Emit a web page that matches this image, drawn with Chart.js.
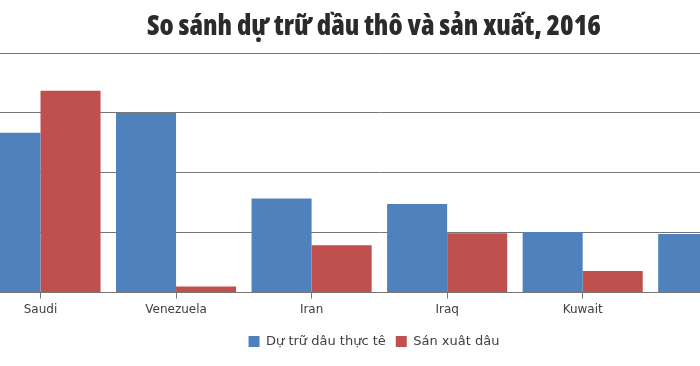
<!DOCTYPE html>
<html>
<head>
<meta charset="utf-8">
<script src="https://cdn.jsdelivr.net/npm/chart.js@4"></script>
<style>
  html, body { margin: 0; padding: 0; width: 700px; height: 366px; overflow: hidden; background: #fff; }
  /* the chart is shown panned: plot starts left of the window, last category runs past the right edge */
  #wrap { position: absolute; left: -38px; top: 0; width: 824px; height: 366px; }
</style>
</head>
<body>
<div id="wrap"><canvas id="oil-chart"></canvas></div>
<script>
const countries = ['Saudi', 'Venezuela', 'Iran', 'Iraq', 'Kuwait', 'UAE']
const reserves = [267, 300, 157, 148, 101, 98]
const production = [337, 10, 79, 99, 36, 40]
const yTicks = [0, 100, 200, 300, 400]

const blue = '#4f81bd'
const red = '#c0504d'
const gridGray = '#767676'

const ctx = document.getElementById('oil-chart').getContext('2d')
const chart = new Chart(ctx, {
    type: 'bar',
    data: {
        labels: countries,
        datasets: [
            {
                label: 'Dự trữ dâu thực tê',
                data: reserves,
                backgroundColor: blue,
                borderWidth: 0
            },
            {
                label: 'Sán xuât dâu',
                data: production,
                backgroundColor: red,
                borderWidth: 0
            }
        ]
    },
    options: {
        responsive: true,
        maintainAspectRatio: false,
        animation: false,
        layout: {
            padding: { left: 0, right: 0, top: 0, bottom: 8 }
        },
        datasets: {
            bar: {
                categoryPercentage: 0.886,
                barPercentage: 1
            }
        },
        scales: {
            x: {
                grid: {
                    offset: false,
                    drawOnChartArea: false,
                    color: gridGray,
                    tickLength: 6
                },
                border: { color: gridGray },
                ticks: {
                    color: '#404040',
                    padding: 4,
                    font: { family: 'DejaVu Sans', size: 12 }
                },
                // a bit more room between the labels and the legend
                afterFit: (scale) => {
                    scale.height += 4
                }
            },
            y: {
                min: yTicks[0],
                max: yTicks[yTicks.length - 1],
                afterBuildTicks: (scale) => {
                    scale.ticks = yTicks.map(v => ({ value: v }))
                },
                // the value labels are cut off in the source picture, keep a thin hidden axis
                afterFit: (scale) => {
                    scale.width = 10.75
                },
                grid: {
                    color: gridGray,
                    drawTicks: false
                },
                border: { display: false },
                ticks: { display: false }
            }
        },
        plugins: {
            title: {
                display: true,
                text: 'So sánh dự trữ dầu thô và sản xuất, 2016',
                color: '#2b2b2b',
                font: { family: "'Open Sans', 'DejaVu Sans Condensed', sans-serif", size: 27.5, weight: '800 condensed' },
                padding: { top: 11, bottom: 9 }
            },
            legend: {
                display: true,
                position: 'bottom',
                labels: {
                    boxWidth: 11,
                    boxHeight: 11,
                    padding: 10,
                    color: '#404040',
                    font: { family: 'DejaVu Sans', size: 13 }
                }
            },
            tooltip: { enabled: false }
        }
    }
})
</script>
</body>
</html>
